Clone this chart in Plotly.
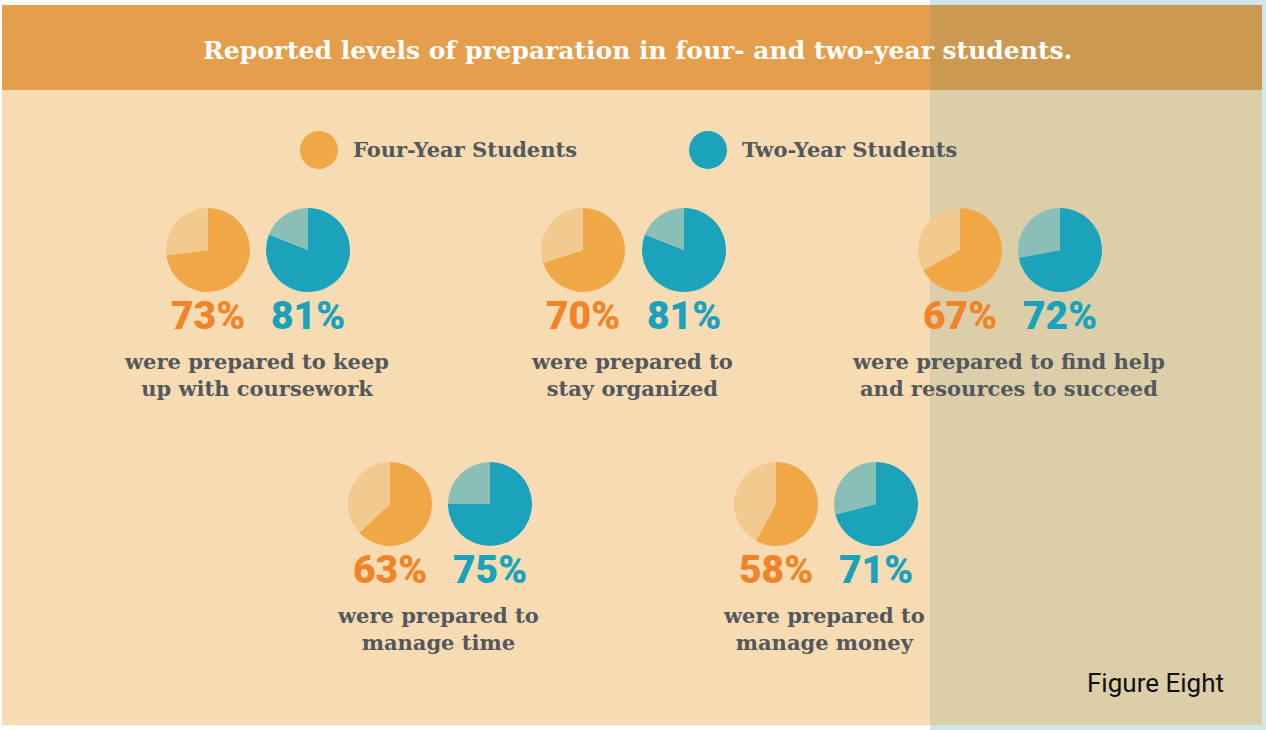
import plotly.graph_objects as go

W, H = 1266, 730

# ---- data ----
title = "Reported levels of preparation in four- and two-year students."
series_names = ["Four-Year Students", "Two-Year Students"]
four_year = [73, 70, 67, 63, 58]
two_year = [81, 81, 72, 75, 71]
descriptions = [
    "were prepared to keep<br>up with coursework",
    "were prepared to<br>stay organized",
    "were prepared to find help<br>and resources to succeed",
    "were prepared to<br>manage time",
    "were prepared to<br>manage money",
]
footer = "Figure Eight"

# ---- styling / layout ----
C_FOUR = "#F0A746"
C_FOUR_L = "#F2CA90"
C_TWO = "#1AA3BA"
C_TWO_L = "#8ABFB8"
C_FOUR_TXT = "#EF8429"
C_TWO_TXT = "#1AA2BB"
C_GRAY = "#53585D"
SLAB = "DejaVu Serif, serif"
SANS = "Roboto, Inter, sans-serif"

# group centres (pixel) : (x of four-year pie, x of two-year pie, y of pies)
groups = [(208, 308, 250), (583, 684, 250), (960, 1060, 250),
          (390, 490, 504), (776, 876, 504)]
R = 42


def px(x):
    return x / W


def py(y):
    return 1 - y / H


def ann(x, y, text, font, xanchor="center"):
    return dict(x=px(x), y=py(y), xref="paper", yref="paper", text=text, showarrow=False,
                xanchor=xanchor, yanchor="middle", font=font)


fig = go.Figure()
shapes = []
annotations = []

# background panels
shapes.append(dict(type="rect", xref="paper", yref="paper", x0=px(930), x1=1, y0=0, y1=1,
                   fillcolor="#E6FAFE", line_width=0, layer="below"))
shapes.append(dict(type="rect", xref="paper", yref="paper", x0=px(2), x1=px(1262), y0=py(725), y1=py(90),
                   fillcolor="#F7DBB3", line_width=0, layer="below"))
shapes.append(dict(type="rect", xref="paper", yref="paper", x0=px(2), x1=px(1262), y0=py(90), y1=py(5),
                   fillcolor="#E49E4C", line_width=0, layer="below"))
# right-side tint overlay (behind the marks)
shapes.append(dict(type="rect", xref="paper", yref="paper", x0=px(930), x1=1, y0=0, y1=1,
                   fillcolor="rgba(60,130,110,0.14)", line_width=0, layer="below"))

pct_font_four = dict(family=SANS, size=39, color=C_FOUR_TXT, weight=900)
pct_font_two = dict(family=SANS, size=39, color=C_TWO_TXT, weight=900)
desc_font = dict(family=SLAB, size=21, color=C_GRAY, weight="bold")

# pies
for i, (xa, xb, yc) in enumerate(groups):
    for cx, val, cd, cl in [(xa, four_year[i], C_FOUR, C_FOUR_L), (xb, two_year[i], C_TWO, C_TWO_L)]:
        fig.add_trace(go.Pie(
            values=[val, 100 - val], sort=False, direction="clockwise", rotation=0,
            marker=dict(colors=[cd, cl], line=dict(width=0)),
            textinfo="none", hoverinfo="skip", showlegend=False,
            domain=dict(x=[px(cx - R), px(cx + R)], y=[py(yc + R), py(yc - R)]),
        ))
    annotations.append(ann(xa, yc + 66, f"{four_year[i]}%", pct_font_four))
    annotations.append(ann(xb, yc + 66, f"{two_year[i]}%", pct_font_two))
    annotations.append(ann((xa + xb) / 2 - 2, yc + 125, descriptions[i], desc_font))

# title
annotations.append(ann(637, 50, title, dict(family=SLAB, size=25, color="white", weight="bold")))

# legend
for cx, name, col, tx in [(319, series_names[0], C_FOUR, 351), (708, series_names[1], C_TWO, 740)]:
    shapes.append(dict(type="circle", xref="paper", yref="paper", x0=px(cx - 19), x1=px(cx + 19),
                       y0=py(150 + 19), y1=py(150 - 19), fillcolor=col, line_width=0, layer="below"))
    annotations.append(ann(tx, 150, name, dict(family=SLAB, size=21, color=C_GRAY, weight="bold"),
                           xanchor="left"))

# footer
annotations.append(ann(1226, 683, footer, dict(family=SANS, size=26, color="#111111"), xanchor="right"))

fig.update_layout(
    width=W, height=H, margin=dict(l=0, r=0, t=0, b=0),
    paper_bgcolor="white", plot_bgcolor="white",
    shapes=shapes, annotations=annotations,
    xaxis=dict(visible=False), yaxis=dict(visible=False),
)

fig.write_html("out.html")
